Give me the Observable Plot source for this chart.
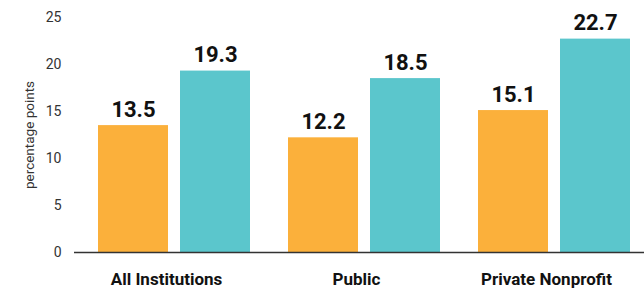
<!DOCTYPE html>
<html><head><meta charset="utf-8">
<script src="https://cdn.jsdelivr.net/npm/d3@7"></script>
<script src="https://cdn.jsdelivr.net/npm/@observablehq/plot@0.6"></script>
<style>body{margin:0;background:#fff}</style>
</head><body><div id="chart"></div>
<script>
const categories = ["All Institutions", "Public", "Private Nonprofit"];
const series = ["first", "second"];
const firstValues = [13.5, 12.2, 15.1];
const secondValues = [19.3, 18.5, 22.7];
const yTicks = [0, 5, 10, 15, 20, 25];
const colors = ["#FBB03B", "#5BC6CC"];

const data = [];
categories.forEach((c, i) => {
  data.push({cat: c, s: series[0], v: firstValues[i]});
  data.push({cat: c, s: series[1], v: secondValues[i]});
});
const font = "Roboto, 'Liberation Sans', sans-serif";

const chart = Plot.plot({
  width: 644, height: 300,
  marginLeft: 73, marginRight: 0, marginTop: 17, marginBottom: 48,
  style: {fontFamily: font, background: "#fff"},
  fx: {domain: categories, padding: 0, label: null},
  x: {domain: series, paddingInner: 0.146, paddingOuter: 0.23, align: 0.63, axis: null},
  y: {domain: [0, 25], ticks: yTicks},
  color: {domain: series, range: colors},
  marks: [
    Plot.barY(data, {fx: "cat", x: "s", y: "v", fill: "s"}),
    Plot.text(data, {fx: "cat", x: "s", y: "v", text: d => d.v.toFixed(1), dy: -9, lineAnchor: "bottom", fontSize: 22, fontWeight: "bold", fill: "#111"}),
    Plot.ruleY([0], {stroke: "#333", strokeWidth: 1.5}),
    Plot.axisY({ticks: yTicks, tickSize: 0, tickPadding: 13, fontSize: 14, color: "#333", label: null}),
    Plot.axisY({ticks: [], tickSize: 0, fontSize: 13.5, color: "#333", label: "percentage points", labelAnchor: "center", labelArrow: "none", labelOffset: 50}),
    Plot.axisFx({anchor: "bottom", tickSize: 0, tickPadding: 20, dx: -3, fontSize: 17, fontWeight: "bold", color: "#111", label: null})
  ]
});
document.getElementById("chart").append(chart);
</script>
</body></html>
